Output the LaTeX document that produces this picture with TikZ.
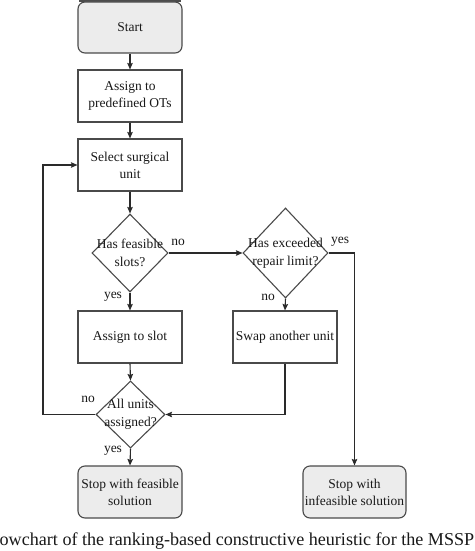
\documentclass[tikz,border=0pt]{standalone}
\usepackage{fontspec}
\setmainfont{Liberation Serif}
\usetikzlibrary{shapes.geometric,arrows.meta}
\definecolor{boxline}{HTML}{4A4A4A}
\definecolor{arrline}{HTML}{2A2A2A}
\definecolor{termfill}{HTML}{ECECEC}
\begin{document}
\begin{tikzpicture}[x=1pt,y=-1pt,
  every node/.style={font=\fontsize{13.5}{17}\selectfont,text=black!90},
  procbox/.style={draw=boxline,line width=1.1pt,minimum width=104pt,minimum height=52pt,inner sep=1pt,align=center},
  termbox/.style={procbox,rounded corners=7pt,fill=termfill},
  decision/.style={draw=boxline,line width=1.1pt,diamond,inner sep=0pt},
  flow/.style={draw=arrline,line width=1.1pt,-{Stealth[length=6.5pt,width=5.5pt,inset=1pt]}},
  lbl/.style={inner sep=0pt},
  dtext/.style={align=center,inner sep=0pt,font=\fontsize{13.5}{18}\selectfont}]
\clip (0,0) rectangle (474,551);
\fill[white] (0,0) rectangle (474,551);
\fill[gray!60!black] (79,0) rectangle (181,2);
% nodes
\node[termbox,minimum height=51pt] (start) at (130,27.5) {Start};
\node[procbox] (assign) at (130,96) {Assign to\\predefined OTs};
\node[procbox] (select) at (130,165) {Select surgical\\unit};
\node[decision,minimum width=76pt,minimum height=78pt,label={[dtext]center:Has feasible\\slots?}] (d1) at (130,253) {};
\node[decision,minimum width=85pt,minimum height=90pt,label={[dtext]center:Has exceeded\\repair limit?}] (d2) at (285.5,253) {};
\node[procbox] (slot) at (130,337) {Assign to slot};
\node[procbox] (swap) at (285,337) {Swap another unit};
\node[decision,minimum width=69pt,minimum height=67pt,label={[dtext]center:All units\\assigned?}] (d3) at (130.5,414.5) {};
\node[termbox] (stopf) at (130,492) {Stop with feasible\\solution};
\node[termbox,minimum width=103pt] (stopi) at (354.5,492) {Stop with\\infeasible solution};
\coordinate (loop) at (43,414.5);
% connectors
\draw[flow] (start) -- (assign);
\draw[flow] (assign) -- (select);
\draw[flow] (select) -- (d1.north);
\draw[flow] (d1.east) -- (d2.west);
\draw[flow] (d1.south) -- (slot.north);
\draw[flow] (d2.south) -- (swap.north);
\draw[flow] (d2.east) -| (stopi.north);
\draw[flow] (slot.south) -- (d3.north);
\draw[flow] (swap.south) |- (d3.east);
\draw[flow] (d3.west) -- (loop) |- (select.west);
\draw[flow] (d3.south) -- (stopf.north);
% labels
\node[lbl] (lno1) at (178,242) {no};
\node[lbl] (lyes1) at (340,242) {yes};
\node[lbl] (lyes2) at (113,297) {yes};
\node[lbl] (lno2) at (268,297) {no};
\node[lbl] (lno3) at (88,399) {no};
\node[lbl] (lyes3) at (113,451) {yes};
% caption
\node[anchor=base west,inner sep=0pt,font=\fontsize{18.1}{22}\selectfont] (cap) at (-0.5,545) {owchart of the ranking-based constructive heuristic for the MSSP};
\end{tikzpicture}
\end{document}
